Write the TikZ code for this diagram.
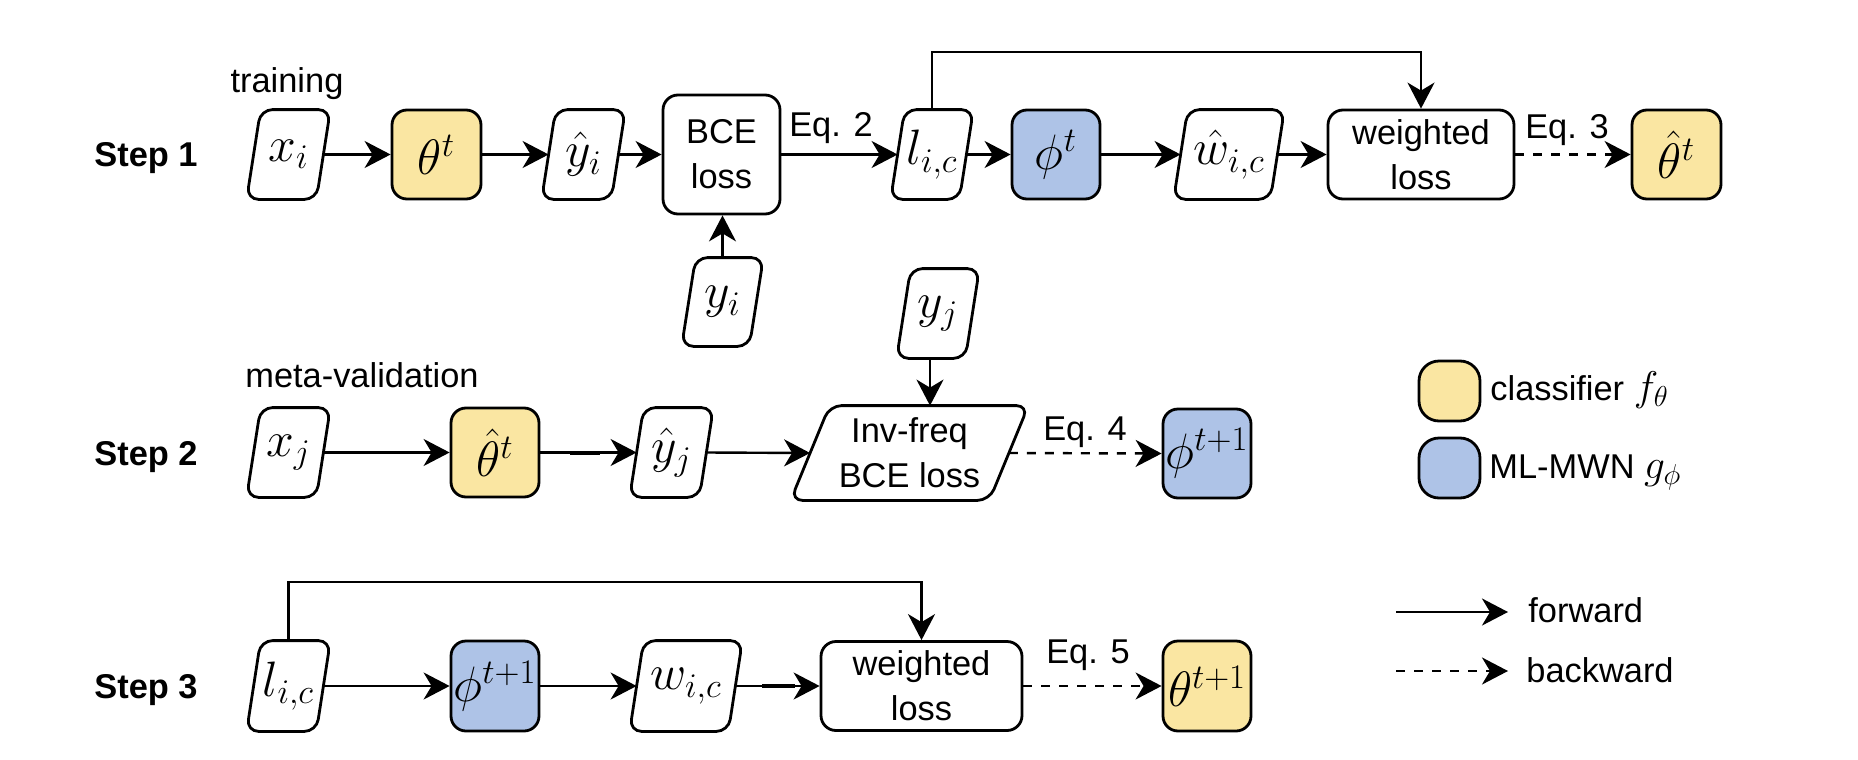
\documentclass[tikz,border=0pt]{standalone}
\usepackage{fontspec}
\setmainfont{Liberation Sans}
\usetikzlibrary{arrows.meta}
\definecolor{cyellow}{HTML}{FAE6A2}
\definecolor{cblue}{HTML}{AEC3E7}
\newcommand\txtfont{\fontsize{17.2}{22.5}\selectfont}
\newcommand\mfont{\fontsize{23}{27}\selectfont}
\newcommand\lgmfont{\fontsize{20}{24}\selectfont}
\newcommand\paraline[2]{\draw[pline] ([xshift=-#2*0.25pt]#1.south west) -- ([xshift=#2*0.25pt]#1.north west) -- ([xshift=#2*0.25pt]#1.north east) -- ([xshift=-#2*0.25pt]#1.south east) -- cycle;}
\tikzset{
  sz/.style 2 args={minimum width=#1*0.5pt, minimum height=#2*0.5pt},
  rbox/.style={draw, line width=1.4pt, rounded corners=7.5pt, inner sep=0pt, align=center, font=\txtfont},
  para/.style={inner sep=0pt, align=center, font=\txtfont},
  pline/.style={draw, line width=1.4pt, rounded corners=6pt},
  arr/.style={line width=1.2pt, -{Stealth[length=13pt,width=13.5pt,inset=4pt]}},
  darr/.style={arr, dash pattern=on 4.5pt off 4.5pt},
  lbl/.style={font=\txtfont, anchor=base, inner sep=0pt},
  steplbl/.style={font=\txtfont\bfseries, anchor=base west, inner sep=0pt},
  yfill/.style={fill=cyellow},
  bfill/.style={fill=cblue}
}
\begin{document}
\begin{tikzpicture}[x={(0.5pt,0)}, y={(0,-0.5pt)}]
\useasboundingbox (0,0) rectangle (1858,760);

% ---------- Step 1 ----------
\node[steplbl] (s1) at (94,166) {Step 1};
\node[lbl] (tr) at (287,92) {training};
\node[para, sz={69}{89}] (xi) at (288.5,154.5) {\mfont$x_i$};
\node[rbox, yfill, sz={89}{89}] (th1) at (436.5,154.5) {\mfont$\theta^t$};
\node[para, sz={69}{89}] (yh1) at (583.5,154.5) {\mfont$\hat{y}_i$};
\node[rbox, sz={117}{119}] (bce) at (721.5,154.5) {BCE\\loss};
\node[para, sz={68}{89}] (l1) at (932,154.5) {\mfont$l_{i,c}$};
\node[rbox, bfill, sz={88}{89}] (ph1) at (1056,154.5) {\mfont$\phi^t$};
\node[para, sz={96}{89}] (wh1) at (1229,154.5) {\mfont$\hat{w}_{i,c}$};
\node[rbox, sz={186}{89}] (wl1) at (1421,154.5) {weighted\\loss};
\node[rbox, yfill, sz={89}{89}] (thh1) at (1676.5,154.5) {\mfont$\hat{\theta}^t$};
\node[para, sz={67}{88}] (yi) at (722.5,302) {\mfont$y_i$};
\node[para, sz={68}{89}] (yj) at (938,313.5) {\mfont$y_j$};
\node[lbl] (eq2) at (831,136) {Eq. 2};
\node[lbl] (eq3) at (1567,138) {Eq. 3};

\paraline{xi}{14}
\paraline{yh1}{14}
\paraline{l1}{14}
\paraline{wh1}{14}
\paraline{yi}{14}
\paraline{yj}{14}

\draw[arr] (xi.east) -- (th1.west);
\draw[arr] (th1.east) -- (yh1.west);
\draw[arr] (yh1.east) -- (bce.west);
\draw[arr] (bce.east) -- (l1.west);
\draw[arr] (l1.east) -- (ph1.west);
\draw[arr] (ph1.east) -- (wh1.west);
\draw[arr] (wh1.east) -- (wl1.west);
\draw[darr] (wl1.east) -- (thh1.west);
\draw[arr] (yi.north) -- (yi.north |- bce.south);
\coordinate (top1) at (0,52);
\draw[arr] (l1.north) |- (top1 -| wl1.north) -- (wl1.north);

% ---------- Step 2 ----------
\node[steplbl] (s2) at (94,465) {Step 2};
\node[lbl] (mv) at (362,387) {meta-validation};
\node[para, sz={69}{89}] (xj) at (288.5,452.5) {\mfont$x_j$};
\node[rbox, yfill, sz={88}{89}] (thh2) at (495,452.5) {\mfont$\hat{\theta}^t$};
\node[para, sz={69}{89}] (yh2) at (671.5,452.5) {\mfont$\hat{y}_j$};
\node[para, sz={198}{94}] (inv) at (909.5,453) {Inv-freq\\BCE loss};
\node[rbox, bfill, sz={88}{89}] (ph2) at (1207,453.5) {\mfont$\phi^{t+1}$};
\node[lbl] (eq4) at (1085,440) {Eq. 4};

\paraline{xj}{14}
\paraline{yh2}{14}
\paraline{inv}{39}

\draw[arr] (xj.east) -- (thh2.west);
\draw[arr] (thh2.east) -- (yh2.west);
\draw[line width=2pt] ([xshift=15pt]thh2.east) -- ([xshift=30pt]thh2.east);
\draw[arr] (yh2.east) -- (inv.west);
\draw[darr] (inv.east) -- (ph2.west);
\draw[arr] ([xshift=-4pt]yj.south) -- ([xshift=-4pt]yj.south |- inv.north);

% ---------- Legend ----------
\node[rbox, yfill, rounded corners=10pt, sz={61}{60}] (lgy) at (1449.5,391) {};
\node[rbox, bfill, rounded corners=10pt, sz={61}{60}] (lgb) at (1449.5,468) {};
\node[lbl, anchor=base west] (lgyt) at (1490,400) {classifier {\lgmfont$f_\theta$}};
\node[lbl, anchor=base west] (lgbt) at (1489,478) {ML-MWN {\lgmfont$g_\phi$}};
\coordinate (fw0) at (1396,612);
\coordinate (fw1) at (1508,612);
\draw[arr] (fw0) -- (fw1);
\node[lbl, anchor=base west] (fwt) at (1528,622) {forward};
\coordinate (bw0) at (1396,671);
\coordinate (bw1) at (1508,671);
\draw[darr] (bw0) -- (bw1);
\node[lbl, anchor=base west] (bwt) at (1526,682) {backward};

% ---------- Step 3 ----------
\node[steplbl] (s3) at (94,698) {Step 3};
\node[para, sz={69}{90}] (l3) at (288.5,686) {\mfont$l_{i,c}$};
\node[rbox, bfill, sz={88}{90}] (ph3) at (495,686) {\mfont$\phi^{t+1}$};
\node[para, sz={98}{90}] (w3) at (686,686) {\mfont$w_{i,c}$};
\node[rbox, sz={201}{89}] (wl3) at (921.5,686) {weighted\\loss};
\node[rbox, yfill, sz={88}{90}] (th3) at (1207,686) {\mfont$\theta^{t+1}$};
\node[lbl] (eq5) at (1088,663) {Eq. 5};

\paraline{l3}{14}
\paraline{w3}{14}

\draw[arr] (l3.east) -- (ph3.west);
\draw[arr] (ph3.east) -- (w3.west);
\draw[arr] (w3.east) -- (wl3.west);
\draw[line width=2pt] ([xshift=13.5pt]w3.east) -- ([xshift=30pt]w3.east);
\draw[darr] (wl3.east) -- (th3.west);
\coordinate (top3) at (0,582);
\draw[arr] (l3.north) |- (top3 -| wl3.north) -- (wl3.north);
\end{tikzpicture}
\end{document}
